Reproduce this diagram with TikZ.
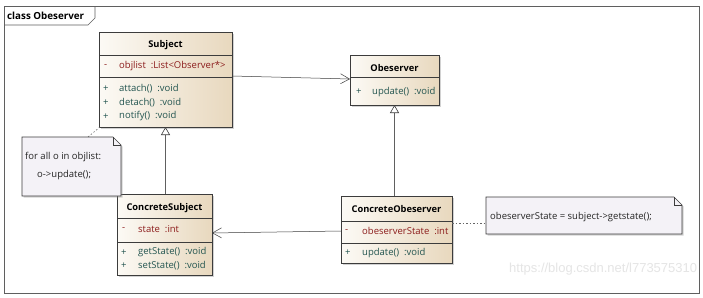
\documentclass[tikz,border=0pt]{standalone}
\usepackage{fontspec}
\setmainfont{Open Sans}
\newfontfamily\wmfont{Liberation Sans}
\usetikzlibrary{shadows,arrows.meta}
\definecolor{attrc}{RGB}{140,28,28}
\definecolor{methc}{RGB}{35,85,80}
\definecolor{boxlight}{RGB}{252,250,245}
\definecolor{boxdark}{RGB}{232,216,190}
\definecolor{notefill}{RGB}{244,242,247}
\definecolor{edgec}{RGB}{60,60,60}
\definecolor{framec}{RGB}{95,95,95}
\tikzset{
  classbox/.style={draw=edgec, line width=0.6pt, left color=boxlight, right color=boxdark,
    drop shadow={shadow xshift=1.5pt, shadow yshift=-1.5pt, opacity=0.35},
    inner sep=0pt, outer sep=0pt, anchor=north west},
  notebox/.style={inner sep=0pt, outer sep=0pt, anchor=north west},
  notedraw/.style={draw=edgec, line width=0.6pt, fill=notefill,
    drop shadow={shadow xshift=1.5pt, shadow yshift=-1.5pt, opacity=0.35}},
  foldline/.style={draw=edgec, line width=0.4pt},
  sepline/.style={draw=edgec, line width=0.6pt},
  titletext/.style={font=\fontsize{9.3}{11}\selectfont\bfseries, inner sep=0pt},
  attr/.style={text=attrc, anchor=west, inner sep=0pt},
  meth/.style={text=methc, anchor=west, inner sep=0pt},
  notetext/.style={text=black!85, anchor=west, inner sep=0pt},
  gen/.style={draw=gray!75!black, line width=0.6pt,
    -{Triangle[open, length=8pt, width=9pt, fill=white, color=edgec]}},
  assoc/.style={draw=edgec, line width=0.5pt, -{Straight Barb[length=9pt, width=10pt]}},
  anchorline/.style={draw=gray!80!black, line width=0.6pt, dash pattern=on 1.5pt off 2pt},
}
\begin{document}
\begin{tikzpicture}[x=1pt, y=-1pt, font=\fontsize{9.5}{11}\selectfont]
\useasboundingbox (0,0) rectangle (703,297);
\fill[white] (0,0) rectangle (703,297);

% frame
\draw[framec, line width=0.8pt] (4,6) rectangle (699,293);
\draw[framec, line width=0.7pt] (4,25) -- (88,25) -- (95,18) -- (95,6);
\node[anchor=west, inner sep=0pt, font=\fontsize{9.8}{11}\selectfont\bfseries] (frametitle) at (7,16) {class Obeserver};

% Subject
\node[classbox, minimum width=133, minimum height=95] (subject) at (99,32) {};
\node[titletext] (subjectT) at (165.5,45) {Subject};
\draw[sepline] (99,55) -- (232,55);
\node[attr] (subjectA1s) at (104,66) {-};
\node[attr] (subjectA1) at (119,66) {objlist\ \ :List<Observer*>};
\draw[sepline] (99,77) -- (232,77);
\node[meth] (subjectM1s) at (103,89) {+};
\node[meth] (subjectM1) at (119,89) {attach()\ \ :void};
\node[meth] (subjectM2s) at (103,102.5) {+};
\node[meth] (subjectM2) at (119,102.5) {detach()\ \ :void};
\node[meth] (subjectM3s) at (103,116.5) {+};
\node[meth] (subjectM3) at (119,116.5) {notify()\ \ :void};

% Obeserver
\node[classbox, minimum width=89, minimum height=50] (obeserver) at (350,55) {};
\node[titletext] (obeserverT) at (394.5,68) {Obeserver};
\draw[sepline] (350,77) -- (439,77);
\node[meth] (obeserverM1s) at (356,92) {+};
\node[meth] (obeserverM1) at (372,92) {update()\ \ :void};

% ConcreteSubject
\node[classbox, minimum width=95, minimum height=81] (concreteSubject) at (117,194) {};
\node[titletext] (concreteSubjectT) at (164.5,208) {ConcreteSubject};
\draw[sepline] (117,218) -- (212,218);
\node[attr] (concreteSubjectA1s) at (122,229) {-};
\node[attr] (concreteSubjectA1) at (138,229) {state\ \ :int};
\draw[sepline] (117,242) -- (212,242);
\node[meth] (concreteSubjectM1s) at (121,252.5) {+};
\node[meth] (concreteSubjectM1) at (138,252.5) {getState()\ \ :void};
\node[meth] (concreteSubjectM2s) at (121,266) {+};
\node[meth] (concreteSubjectM2) at (138,266) {setState()\ \ :void};

% ConcreteObeserver
\node[classbox, minimum width=111, minimum height=67] (concreteObeserver) at (341,196) {};
\node[titletext] (concreteObeserverT) at (396.5,209.5) {ConcreteObeserver};
\draw[sepline] (341,221) -- (452,221);
\node[attr] (concreteObeserverA1s) at (345,231) {-};
\node[attr] (concreteObeserverA1) at (362,231) {obeserverState\ \ :int};
\draw[sepline] (341,243) -- (452,243);
\node[meth] (concreteObeserverM1s) at (345,253) {+};
\node[meth] (concreteObeserverM1) at (362,253) {update()\ \ :void};

% Note 1
\node[notebox, minimum width=99, minimum height=59] (note1) at (22,137) {};
\path[notedraw] (note1.north west) -- ([xshift=-8pt]note1.north east)
  -- ([yshift=-8pt]note1.north east) -- (note1.south east) -- (note1.south west) -- cycle;
\draw[foldline] ([xshift=-8pt]note1.north east) -- ([xshift=-8pt,yshift=-8pt]note1.north east)
  -- ([yshift=-8pt]note1.north east);
\node[notetext] (note1L1) at (25,157) {for all o in objlist:};
\node[notetext] (note1L2) at (37,175) {o->update();};

% Note 2
\node[notebox, minimum width=196, minimum height=37] (note2) at (486,197) {};
\path[notedraw] (note2.north west) -- ([xshift=-8pt]note2.north east)
  -- ([yshift=-8pt]note2.north east) -- (note2.south east) -- (note2.south west) -- cycle;
\draw[foldline] ([xshift=-8pt]note2.north east) -- ([xshift=-8pt,yshift=-8pt]note2.north east)
  -- ([yshift=-8pt]note2.north east);
\node[notetext] (note2L1) at (490,217) {obeserverState = subject->getstate();};

% connectors
\draw[assoc] ([yshift=3.5pt]subject.east) -- ([yshift=1pt]obeserver.west);
\draw[gen] (subject.south |- concreteSubject.north) -- (subject.south);
\draw[gen] (obeserver.south |- concreteObeserver.north) -- (obeserver.south);
\draw[assoc] ([yshift=-1.5pt]concreteObeserver.west) -- ([yshift=1.5pt]concreteSubject.east);
\draw[anchorline] ([xshift=1pt]subject.south west) -- ([xshift=16.5pt]note1.north);
\draw[anchorline] ([yshift=6.5pt]concreteObeserver.east) -- ([yshift=-7.5pt]note2.west);

% watermark
\node[anchor=west, inner sep=0pt, text=gray!20, font=\wmfont\fontsize{13}{14}\selectfont] (watermark) at (509,269) {https://blog.csdn.net/l773575310};
\end{tikzpicture}
\end{document}
